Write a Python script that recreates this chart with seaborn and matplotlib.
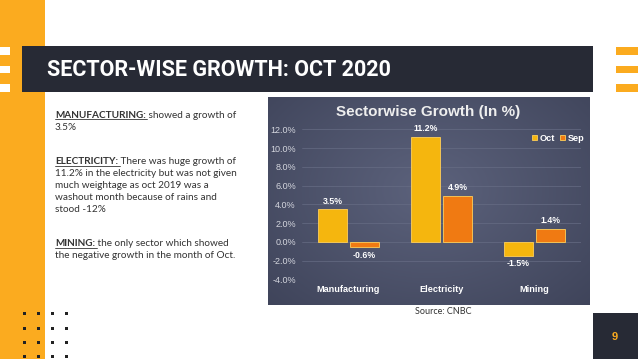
import matplotlib.pyplot as plt
import matplotlib.patches as mpatches
import numpy as np
import pandas as pd
import seaborn as sns

# chart data
sectors = ["Manufacturing", "Electricity", "Mining"]
months = ["Oct", "Sep"]
oct_growth = [3.5, 11.2, -1.5]
sep_growth = [-0.6, 4.9, 1.4]
y_ticks = [-4, -2, 0, 2, 4, 6, 8, 10, 12]

# slide text
slide_title = "SECTOR-WISE GROWTH: OCT 2020"
chart_title = "Sectorwise Growth (In %)"
source_text = "Source: CNBC"
page_no = "9"
notes = [
    ("MANUFACTURING:", " showed a growth of", ["3.5%"]),
    ("ELECTRICITY:", " There was huge growth of",
     ["11.2% in the electricity but was not given",
      "much weightage as oct 2019 was a",
      "washout month because of rains and",
      "stood -12%"]),
    ("MINING:", " the only sector which showed",
     ["the negative growth in the month of Oct."]),
]

ORANGE = "#fbab1f"
DARK = "#272a35"
W, H = 638, 359

sns.set_theme(style="white")
plt.rcParams["font.family"] = ["Liberation Sans", "DejaVu Sans"]

fig = plt.figure(figsize=(W / 100, H / 100), dpi=100)
fig.patch.set_facecolor("white")

# decoration layer in pixel coordinates
deco = fig.add_axes([0, 0, 1, 1])
deco.set_xlim(0, W)
deco.set_ylim(H, 0)
deco.axis("off")

deco.add_patch(mpatches.Rectangle((0, 0), 45, H, color=ORANGE, lw=0))
for y0 in [47, 65.5, 84]:
    deco.add_patch(mpatches.Rectangle((0, y0), 10, 7.5, color="white", lw=0))
    deco.add_patch(mpatches.Rectangle((616, y0), 22, 7.5, color=ORANGE, lw=0))
deco.add_patch(mpatches.Rectangle((22, 46), 571, 46, color=DARK, lw=0))
deco.text(47, 70, slide_title, color="white", fontsize=15.5, weight="bold",
          va="center", ha="left", family=["Liberation Sans Narrow", "Roboto", "DejaVu Sans"])

# dots bottom-left
for xd in [24, 38, 52, 66]:
    for yd in [313, 328, 342, 356]:
        deco.add_patch(mpatches.Rectangle((xd - 1.5, yd - 1.5), 3, 3, color="#222222", lw=0))

# page number box
deco.add_patch(mpatches.Rectangle((593, 313), 45, 46, color=DARK, lw=0))
deco.text(615, 337, page_no, color=ORANGE, fontsize=8, weight="bold", ha="center", va="center")

deco.text(443, 312, source_text, color="#333333", fontsize=6.5, ha="center", va="center",
          family=["Lato", "DejaVu Sans"])

# left notes with underlined headings
renderer = fig.canvas.get_renderer()
note_font = ["Lato", "DejaVu Sans"]
note_y = [115, 162, 244]
line_gap = 12
for (head, rest, more), y0 in zip(notes, note_y):
    t = deco.text(55, y0, head, fontsize=7.2, weight="bold", color="#333333",
                  va="center", ha="left", family=note_font)
    bb = t.get_window_extent(renderer)
    x_end = bb.x1
    deco.plot([55, x_end + 1.5], [y0 + 4.3, y0 + 4.3], color="#333333", lw=0.6)
    deco.text(x_end, y0, rest, fontsize=7.2, color="#333333", va="center", ha="left",
              family=note_font)
    for i, line in enumerate(more):
        deco.text(55, y0 + line_gap * (i + 1), line, fontsize=7.2, color="#333333",
                  va="center", ha="left", family=note_font)

# chart panel background with a soft radial gradient
px0, py0, px1, py1 = 268, 97, 589, 305
bg = fig.add_axes([px0 / W, 1 - py1 / H, (px1 - px0) / W, (py1 - py0) / H])
gx, gy = np.meshgrid(np.linspace(0, 1, 200), np.linspace(0, 1, 130))
r = np.clip(np.sqrt(((gx - 0.5) / 0.75) ** 2 + ((gy - 0.45) / 0.85) ** 2), 0, 1)
c_in = np.array([0x5c, 0x62, 0x7c]) / 255
c_out = np.array([0x3d, 0x42, 0x58]) / 255
img = c_in[None, None, :] * (1 - r[..., None]) + c_out[None, None, :] * r[..., None]
bg.imshow(img, aspect="auto", extent=[0, 1, 0, 1])
bg.axis("off")

# bar chart
df = pd.DataFrame({
    "Sector": sectors * 2,
    "Month": [months[0]] * 3 + [months[1]] * 3,
    "Growth": oct_growth + sep_growth,
})
ax = fig.add_axes([302 / W, 1 - 279.3 / H, 279 / W, 150 / H])
ax.patch.set_alpha(0)
sns.barplot(data=df, x="Sector", y="Growth", hue="Month", order=sectors, hue_order=months,
            palette=["#f5b60e", "#f07a12"], width=0.69, gap=0.11, ax=ax,
            edgecolor="#ffcf5a", linewidth=0.6, saturation=1, zorder=3)
for c in ax.containers:
    ax.bar_label(c, fmt="%.1f%%", padding=2.5, color="white", fontsize=6.3, weight="bold")

ax.set_ylim(-4, 12)
ax.set_xlim(-0.5, 2.5)
ax.set_yticks(y_ticks)
ax.set_yticklabels([f"{v:.1f}%" for v in y_ticks])
ax.tick_params(axis="y", length=0, pad=4.5, labelsize=6.5, labelcolor="#d4d6de")
ax.tick_params(axis="x", length=0, pad=4)
for lab in ax.get_xticklabels():
    lab.set_fontsize(6.6)
    lab.set_fontweight("bold")
    lab.set_color("white")
ax.grid(axis="y", color="#666c84", lw=0.5, zorder=0)
ax.set_axisbelow(True)
for s in ax.spines.values():
    s.set_visible(False)
ax.set_xlabel("")
ax.set_ylabel("")

leg = ax.legend(loc="upper right", bbox_to_anchor=(1.03, 1.0), frameon=False, ncol=2,
                fontsize=6.6, handlelength=0.55, handleheight=0.55, handletextpad=0.3,
                columnspacing=0.6, borderpad=0)
for txt in leg.get_texts():
    txt.set_color("white")
    txt.set_fontweight("bold")

fig.text(428 / W, 1 - 112 / H, chart_title, color="#eeeeee", fontsize=11, weight="bold",
         ha="center", va="center")

fig.savefig("out.png", dpi=100)
